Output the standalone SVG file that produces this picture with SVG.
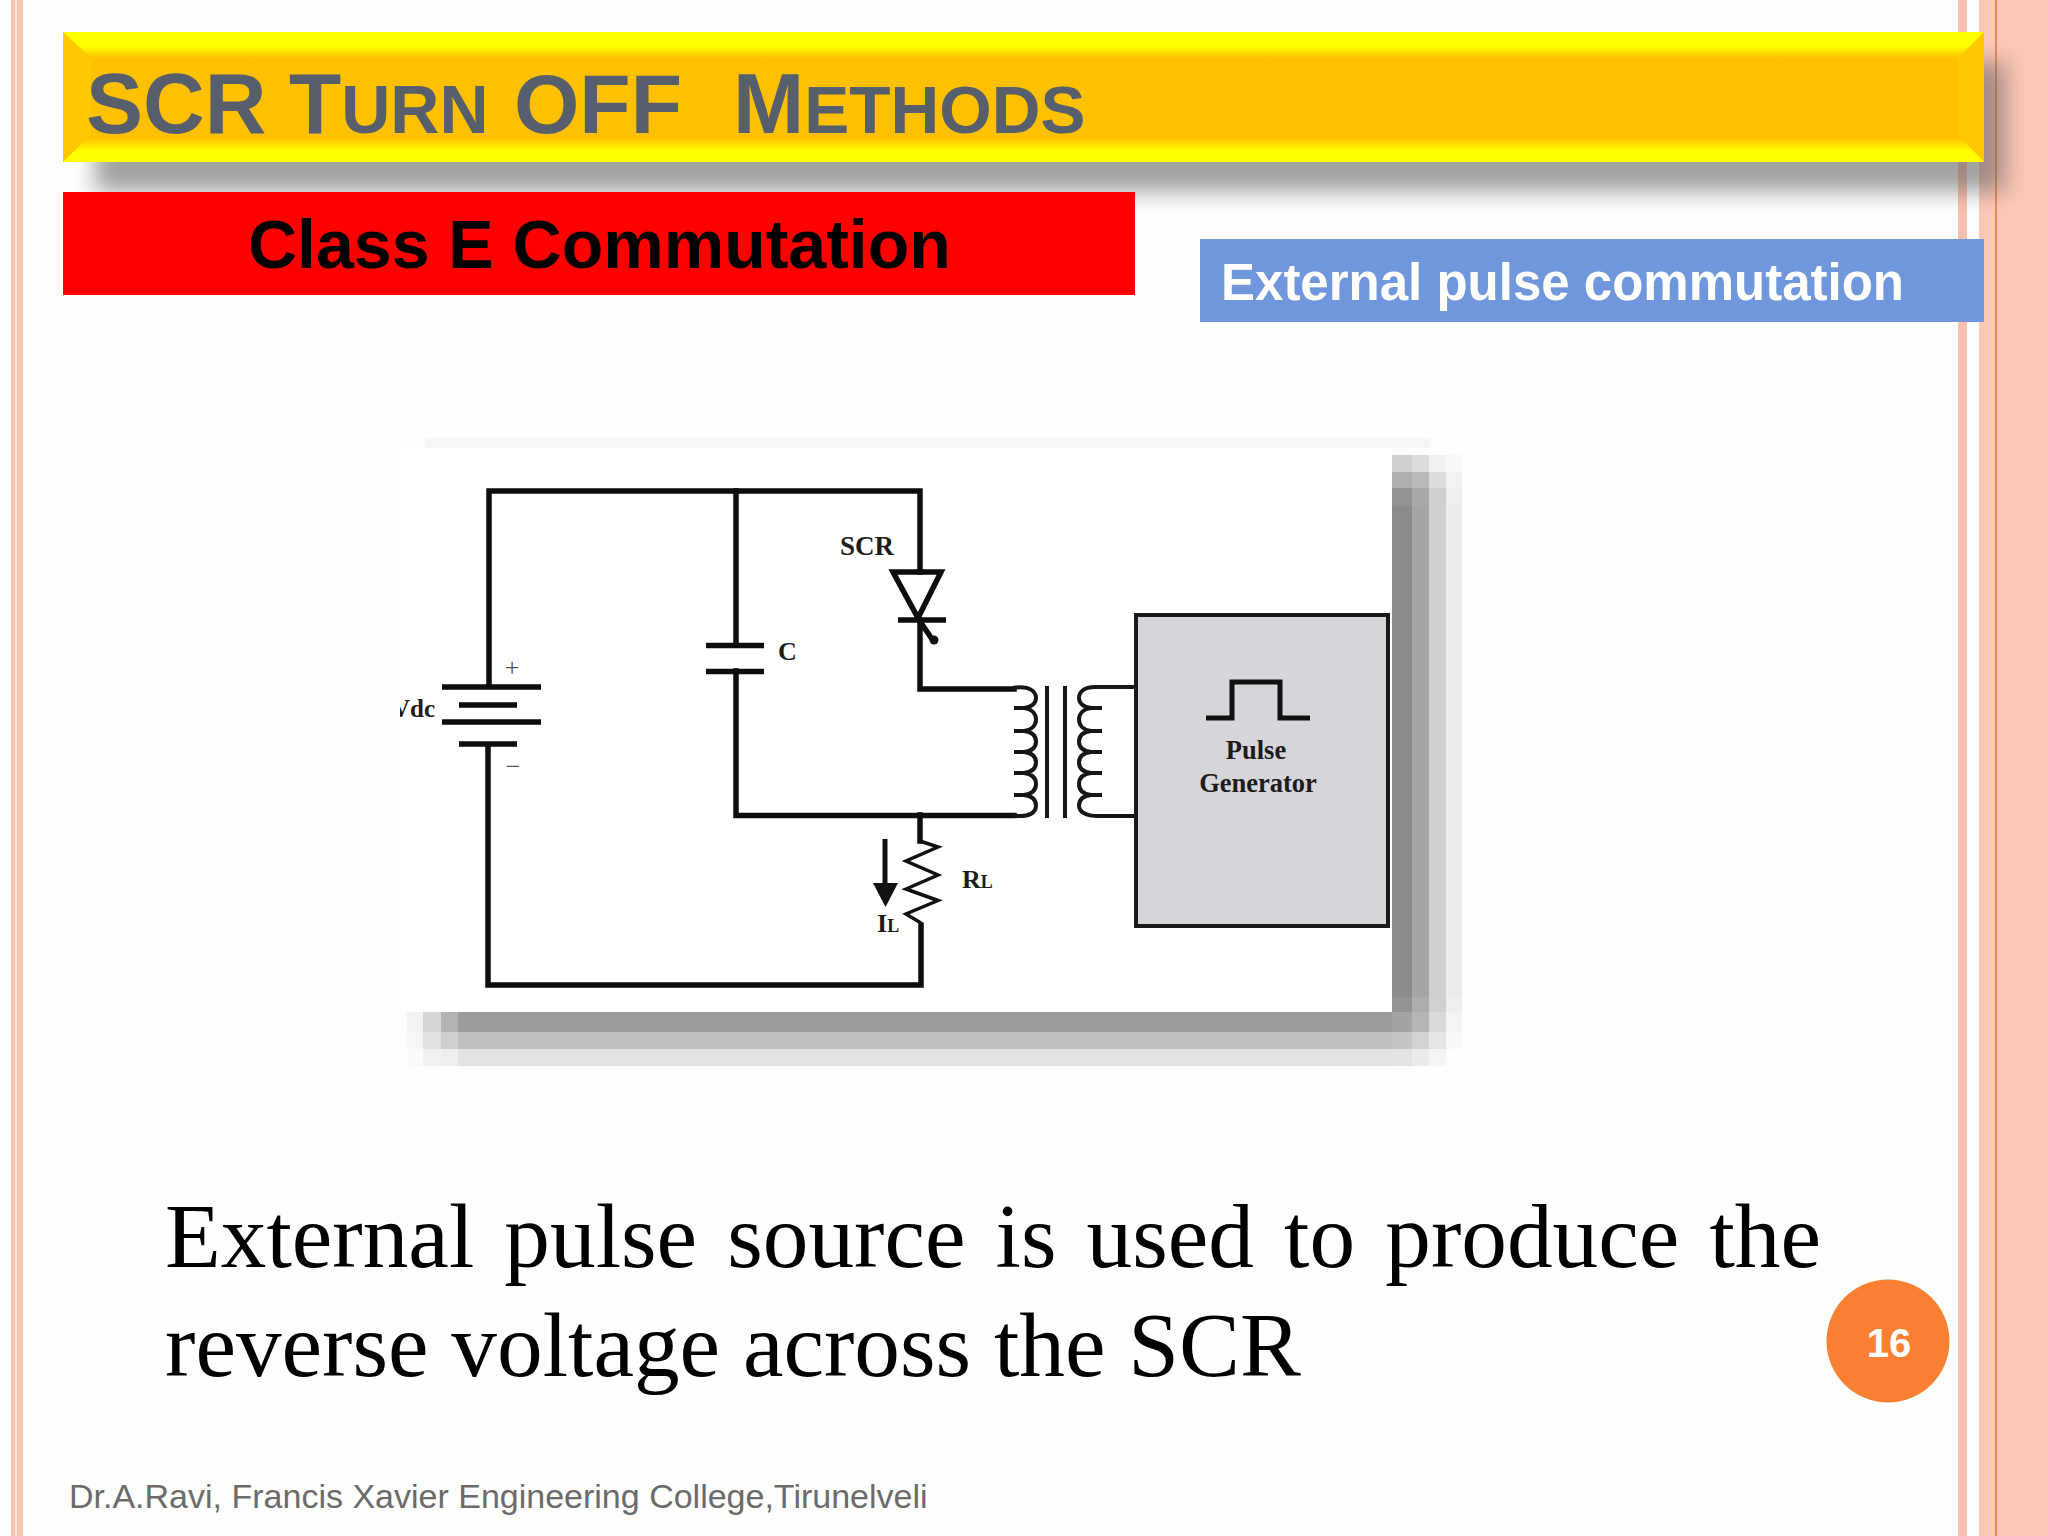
<svg xmlns="http://www.w3.org/2000/svg" width="2048" height="1536" viewBox="0 0 2048 1536">
<style>
.w{fill:none;stroke:#0d0d0d;stroke-width:5.500;stroke-linecap:square;stroke-linejoin:miter}
.p{fill:none;stroke:#0d0d0d;stroke-width:5.500;stroke-linecap:butt}
.t{fill:none;stroke:#161616;stroke-width:4}
.s{font-family:"Liberation Serif","Times New Roman",serif;font-weight:700;fill:#1c1c1c}
.a{font-family:"Liberation Sans",Arial,sans-serif;font-weight:700}
.b{font-family:"Liberation Serif","Times New Roman",serif;font-size:91.300px;fill:#000}
</style>
<defs>
<filter id="blur" x="-5%" y="-30%" width="110%" height="160%"><feGaussianBlur stdDeviation="11"/></filter>
<linearGradient id="gt" x1="0" y1="0" x2="0" y2="1"><stop offset="0.55" stop-color="#ffff00"/><stop offset="1" stop-color="#ffc000"/></linearGradient>
<linearGradient id="gb" x1="0" y1="0" x2="0" y2="1"><stop offset="0.1" stop-color="#ffc000"/><stop offset="0.6" stop-color="#ffff00"/></linearGradient>
<clipPath id="pic"><rect x="400" y="448" width="993" height="564"/></clipPath>
</defs>
<rect width="2048" height="1536" fill="#fefefc"/>
<g id="frame">
<rect x="11" y="0" width="12" height="1536" fill="#fcc5b4"/>
<rect x="15" y="0" width="2" height="1536" fill="#fee5dc"/>
<rect x="1958" y="0" width="9" height="1536" fill="#fcc0ae"/>
<rect x="1979" y="0" width="69" height="1536" fill="#fdc7b7"/>
<rect x="1995" y="0" width="2" height="1536" fill="#e98a50"/>
</g>
<g id="title-shadow"><rect x="95" y="62" width="1910" height="130" fill="#606060" opacity="0.58" filter="url(#blur)"/></g>
<g id="title">
<rect x="63" y="32" width="1921" height="130" fill="#ffc000"/>
<polygon points="63,32 91,60 91,135 63,162" fill="#ffc800"/>
<polygon points="1984,32 1958,57 1958,135 1984,162" fill="#ffc800"/>
<polygon points="63,32 1984,32 1958,58 91,58" fill="url(#gt)"/>
<polygon points="63,162 1984,162 1958,135 91,135" fill="url(#gb)"/>
<text class="a" y="133" font-size="85.500" fill="#575f6d"><tspan x="86">SCR</tspan><tspan x="289">T</tspan><tspan font-size="68">URN</tspan><tspan x="514" font-size="84">OFF</tspan><tspan x="733">M</tspan><tspan font-size="67.500">ETHODS</tspan></text>
</g>
<g id="class-label">
<rect x="63" y="192" width="1072" height="103" fill="#ff0000"/>
<text class="a" x="248" y="268" font-size="68" fill="#000">Class E Commutation</text>
</g>
<g id="type-label">
<rect x="1200" y="239" width="784" height="83" fill="#7096dc"/>
<text class="a" x="1221" y="300" font-size="51" fill="#fff">External pulse commutation</text>
</g>
<g id="picture-shadow">
<rect x="395" y="430" width="1075" height="655" fill="#fdfdfd"/>
<rect x="425" y="438" width="1005" height="10" fill="#f6f5f7"/>
<rect x="1392" y="455" width="20" height="17" fill="#cfced0"/><rect x="1412" y="455" width="17" height="17" fill="#dcdbdd"/><rect x="1429" y="455" width="17" height="17" fill="#f0f0f1"/><rect x="1446" y="455" width="16" height="17" fill="#f7f7f8"/>
<rect x="1392" y="472" width="20" height="16" fill="#aeadb0"/><rect x="1412" y="472" width="17" height="16" fill="#b9b8bb"/><rect x="1429" y="472" width="17" height="16" fill="#dcdbdd"/><rect x="1446" y="472" width="16" height="16" fill="#f2f2f3"/>
<rect x="1392" y="488" width="20" height="18" fill="#939295"/><rect x="1412" y="488" width="17" height="18" fill="#a8a7aa"/><rect x="1429" y="488" width="17" height="18" fill="#cfced1"/><rect x="1446" y="488" width="16" height="18" fill="#eeeeef"/>
<rect x="1392" y="506" width="20" height="491" fill="#8b8a8d"/><rect x="1412" y="506" width="17" height="491" fill="#a5a4a7"/><rect x="1429" y="506" width="17" height="491" fill="#cfced0"/><rect x="1446" y="506" width="16" height="491" fill="#ececed"/>
<rect x="1392" y="997" width="20" height="15" fill="#939295"/><rect x="1412" y="997" width="17" height="15" fill="#adacaf"/><rect x="1429" y="997" width="17" height="15" fill="#d0cfd1"/><rect x="1446" y="997" width="16" height="15" fill="#efefef"/>
<rect x="458" y="1012" width="934" height="20" fill="#9c9b9e"/><rect x="1392" y="1012" width="20" height="20" fill="#a3a2a5"/><rect x="1412" y="1012" width="17" height="20" fill="#b5b4b7"/><rect x="1429" y="1012" width="17" height="20" fill="#d9d8da"/><rect x="1446" y="1012" width="16" height="20" fill="#f4f4f5"/>
<rect x="458" y="1032" width="934" height="17" fill="#bfbec1"/><rect x="1392" y="1032" width="20" height="17" fill="#c5c4c6"/><rect x="1412" y="1032" width="17" height="17" fill="#d2d1d3"/><rect x="1429" y="1032" width="17" height="17" fill="#e6e5e6"/><rect x="1446" y="1032" width="16" height="17" fill="#f8f8f8"/>
<rect x="458" y="1049" width="934" height="17" fill="#e3e2e4"/><rect x="1392" y="1049" width="20" height="17" fill="#e5e4e5"/><rect x="1412" y="1049" width="17" height="17" fill="#ebebec"/><rect x="1429" y="1049" width="17" height="17" fill="#f5f5f5"/>
<rect x="407" y="1012" width="16" height="20" fill="#f2f2f3"/><rect x="423" y="1012" width="18" height="20" fill="#d6d6d8"/><rect x="441" y="1012" width="17" height="20" fill="#b2b1b4"/>
<rect x="407" y="1032" width="16" height="17" fill="#f6f6f7"/><rect x="423" y="1032" width="18" height="17" fill="#e2e2e3"/><rect x="441" y="1032" width="17" height="17" fill="#cfcfd0"/>
<rect x="407" y="1049" width="16" height="17" fill="#fafafb"/><rect x="423" y="1049" width="18" height="17" fill="#f1f1f2"/><rect x="441" y="1049" width="17" height="17" fill="#eeeeef"/>
</g>
<rect x="400" y="448" width="992" height="564" fill="#fff"/>
<g id="connectors">
<path class="w" d="M489 685V491H920V572"/>
<path class="w" d="M736 491V645"/>
<path class="w" d="M736 671V815.500H1014"/>
<path class="w" d="M920 620V689H1014"/>
<path class="w" d="M920 815V841"/>
<path class="w" d="M921 925V985H488V745"/>
</g>
<g id="battery">
<path class="p" d="M442 687H541M459 705H517M442 722H541M459 744H517"/>
<text class="s" x="512" y="676" font-size="26" text-anchor="middle" style="font-weight:400;fill:#555">+</text>
<text class="s" x="513" y="775" font-size="26" text-anchor="middle" style="font-weight:400;fill:#555">−</text>
<g clip-path="url(#pic)"><text class="s" x="435" y="717" font-size="25" text-anchor="end">Vdc</text></g>
</g>
<g id="capacitor">
<path class="p" d="M706 645.500H764M706 671.500H764"/>
<text class="s" x="778" y="660" font-size="26">C</text>
</g>
<g id="scr">
<path class="w" d="M893 572H941L918 618Z"/>
<path class="p" d="M898 620H946M919 620L932 639"/>
<circle cx="934" cy="640" r="4.500" fill="#111"/>
<text class="s" x="840" y="555" font-size="27">SCR</text>
</g>
<g id="transformer">
<path class="t" d="M1013 688C1030 685 1036 692 1036 698C1036 703 1032 707 1024 708H1014H1024C1032 709 1036 714 1036 719.500C1036 725 1032 730 1024 731H1014H1024C1032 732 1036 736 1036 741.500C1036 747 1032 751 1024 752H1014H1024C1032 753 1036 757 1036 762.500C1036 768 1032 772 1024 773H1014H1024C1032 774 1036 778 1036 784C1036 790 1032 794 1024 795H1014H1024C1032 796 1036 800 1036 805.500C1036 812 1030 818 1013 815.500"/>
<path class="t" d="M1047 686V818M1065 686V818"/>
<path class="t" d="M1136 687H1095C1084 687 1079 692 1079 698C1079 703 1083 707 1091 708H1102H1091C1083 709 1079 714 1079 719.500C1079 725 1083 730 1091 731H1102H1091C1083 732 1079 736 1079 741.500C1079 747 1083 751 1091 752H1102H1091C1083 753 1079 757 1079 762.500C1079 768 1083 772 1091 773H1102H1091C1083 774 1079 778 1079 784C1079 790 1083 794 1091 795H1102H1091C1083 796 1079 800 1079 805.500C1079 812 1086 816 1098 816H1136"/>
</g>
<g id="load-resistor">
<path d="M920 841L938 847L906 861L938 875L906 889L938 900.500L906 914L921 923" fill="none" stroke="#111" stroke-width="3.500"/>
<path d="M885 839V886" stroke="#111" stroke-width="5" fill="none"/>
<polygon points="873,883 898,883 885.500,907" fill="#111"/>
<text class="s" x="877" y="932" font-size="26">I<tspan font-size="18">L</tspan></text>
<text class="s" x="962" y="888" font-size="26">R<tspan font-size="18">L</tspan></text>
</g>
<g id="pulse-generator">
<rect x="1136" y="615" width="252" height="311" fill="#d6d5d9" stroke="#1a1a1a" stroke-width="4"/>
<path d="M1206 718H1232V682H1280V718H1310" fill="none" stroke="#111" stroke-width="5"/>
<text class="s" x="1256" y="759" font-size="26.500" text-anchor="middle">Pulse</text>
<text class="s" x="1258" y="792" font-size="26.500" text-anchor="middle">Generator</text>
</g>
<g id="body">
<text class="b" x="165" y="1267" word-spacing="7.300">External pulse source is used to produce the</text>
<text class="b" x="165" y="1376">reverse voltage across the SCR</text>
</g>
<g id="page-number">
<circle cx="1888" cy="1341" r="61.500" fill="#f98033"/>
<text class="a" x="1889" y="1357" font-size="40" fill="#fff" text-anchor="middle">16</text>
</g>
<g id="footer"><text x="69" y="1508" font-family="Liberation Sans,Arial,sans-serif" font-size="34" fill="#6b6b6b">Dr.A.Ravi, Francis Xavier Engineering College,Tirunelveli</text></g>
</svg>
